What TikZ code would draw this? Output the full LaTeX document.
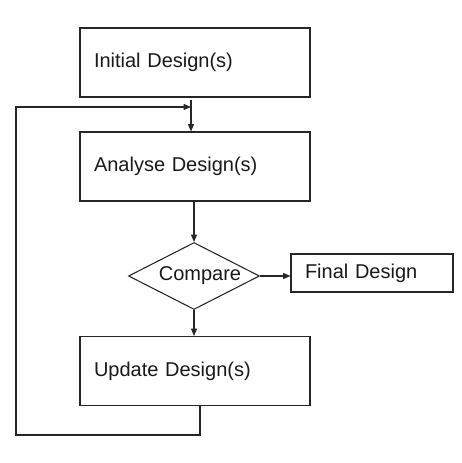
\documentclass[tikz,border=0pt]{standalone}
\usepackage{fontspec}
\setmainfont{Liberation Sans}
\usetikzlibrary{arrows.meta,shapes.geometric}
\begin{document}
\begin{tikzpicture}[x=0.75pt,y=-0.75pt,
  line width=0.8pt, draw=black!85,
  every node/.style={font=\fontsize{15}{18}\selectfont, text=black!90},
  box/.style={draw=black!85, rectangle, inner xsep=10.5pt, inner ysep=0pt, align=left,
     minimum height=51.75pt, text width=151.5pt},
  finalbox/.style={draw=black!85, rectangle, inner xsep=10.5pt, inner ysep=0pt, align=left,
     minimum height=28.5pt, text width=100.5pt},
  decision/.style={draw=black!85, diamond, inner sep=0pt, aspect=1.96,
     minimum width=98.25pt, minimum height=50.25pt},
  arr/.style={-{Triangle[length=5.5pt,width=4.5pt]}},
  ]
\useasboundingbox (0,0) rectangle (461,463);
\node[box] (Initial) at (195,62.5) {Initial Design(s)};
\node[box] (Analyse) at (195,166.5) {Analyse Design(s)};
\node[decision] (Compare) at (194,276) {\hspace{9pt}Compare};
\node[finalbox] (Final) at (372,273) {Final Design};
\node[box] (Update) at (195,371) {Update Design(s)};
\coordinate (top) at (191,100);
\coordinate (j) at (191,107);
\coordinate (tl) at (16,107);
\coordinate (bl) at (16,435);
\coordinate (fb) at (200,435);
\draw[arr] (top) -- (top |- Analyse.north);
\draw[arr] (Analyse.south -| Compare.north) -- (Compare.north);
\draw[arr] (Compare.east) -- (Compare.east -| Final.west);
\draw[arr] (Compare.south) -- (Compare.south |- Update.north);
\draw[arr] (Update.south -| fb) -- (fb) -- (bl) -- (tl) -- (j);
\end{tikzpicture}
\end{document}
